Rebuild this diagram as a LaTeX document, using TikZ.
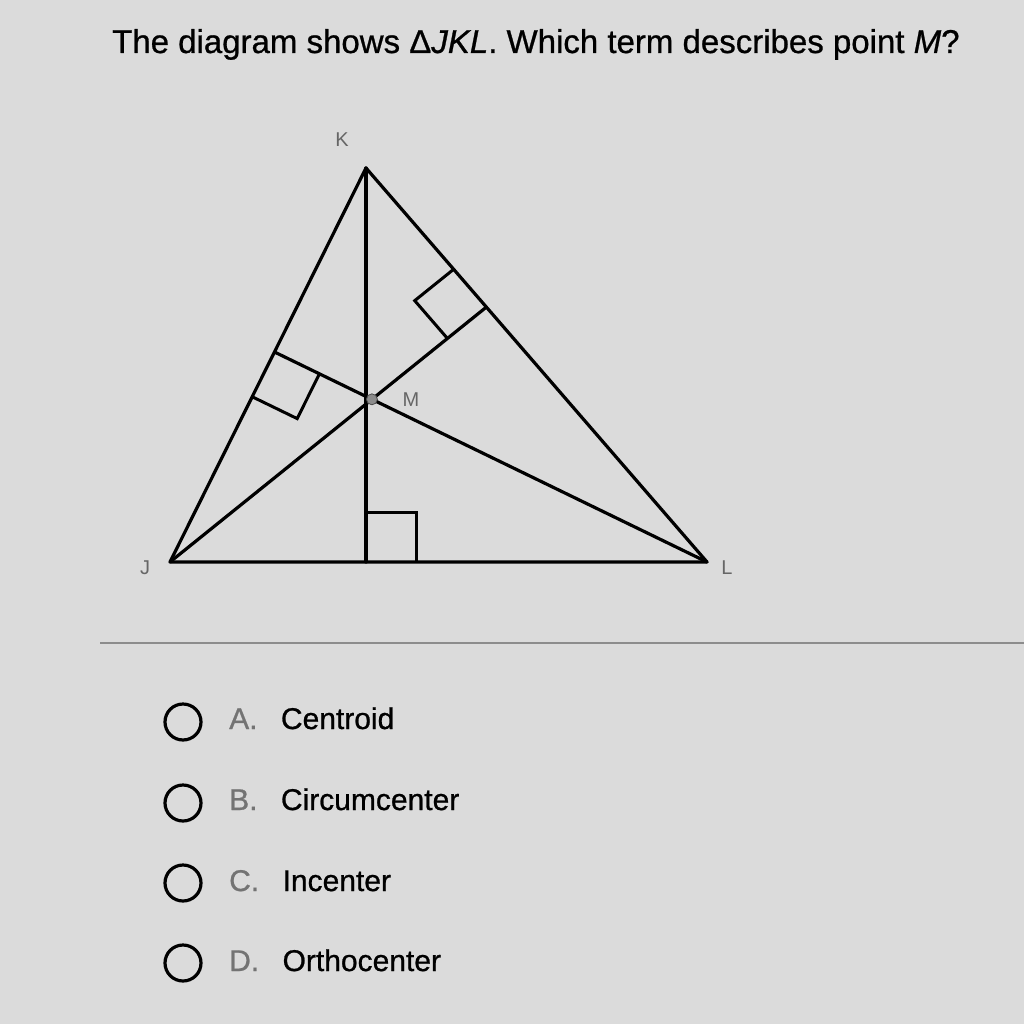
\documentclass[tikz,border=0pt]{standalone}
\usepackage{fontspec}
\setmainfont{Liberation Sans}
\newfontfamily\heavysans{Liberation Sans}[FakeBold=0.8]
\colorlet{ScreenGray}{black!14}
\colorlet{VertexGray}{black!60}
\colorlet{RuleGray}{black!45}
\usetikzlibrary{intersections,calc,positioning}

\begin{document}
\begin{tikzpicture}[x=1pt,y=-1pt,
  side/.style={line width=3.2pt,line cap=round,line join=round},
  rightangle/.style={line width=3pt,line join=miter},
  vertexlabel/.style={text=VertexGray,font=\fontsize{20}{20}\selectfont,inner sep=0pt},
  choice/.style={circle,draw,line width=3.2pt,minimum size=36pt,inner sep=0pt},
  choiceletter/.style={text=black!55,font=\heavysans\fontsize{30}{32}\selectfont,inner sep=0pt,anchor=base west},
  choicetext/.style={font=\heavysans\fontsize{30}{32}\selectfont,inner sep=0pt}]

\useasboundingbox (0,0) rectangle (1024,1024);
\fill[ScreenGray] (0,0) rectangle (1024,1024);

\node[anchor=base west,inner sep=0pt,font=\heavysans\fontsize{33}{36}\selectfont] (question) at (112,53)
  {The diagram shows Δ{\itshape JKL}. Which term describes point {\itshape M}?};

\coordinate (J) at (170,562);
\coordinate (K) at (366,168);
\coordinate (L) at (707,562);
\coordinate (H) at (366,562);
\coordinate (F) at ($(K)!0.353!(L)$);
\coordinate (G) at ($(J)!0.533!(K)$);

\path[name path=JF] (J) -- (F);
\path[name path=LG] (L) -- (G);
\path [name intersections={of=JF and LG, by=M}];

% Hauteurs et triangle
\draw[side] (K) -- (H);
\draw[side] (J) -- (F);
\draw[side] (L) -- (G);
\draw[side] (J) -- (K) -- (L) -- cycle;

% Angles droits
\coordinate (h1) at ($(H)!50pt!(K)$);
\coordinate (h2) at ($(H)!50pt!(L)$);
\draw[rightangle] (h1) -- ($(h1)+(h2)-(H)$) -- (h2);
\coordinate (f1) at ($(F)!50pt!(J)$);
\coordinate (f2) at ($(F)!50pt!(K)$);
\draw[rightangle] (f1) -- ($(f1)+(f2)-(F)$) -- (f2);
\coordinate (g1) at ($(G)!50pt!(L)$);
\coordinate (g2) at ($(G)!50pt!(J)$);
\draw[rightangle] (g1) -- ($(g1)+(g2)-(G)$) -- (g2);

\fill[black!45,draw=black!70,line width=0.8pt] (M) circle (5.5pt);

\node[vertexlabel] (labelK) at (342,140) {K};
\node[vertexlabel] (labelJ) at (145,568) {J};
\node[vertexlabel] (labelL) at (727,568) {L};
\node[vertexlabel] (labelM) at (411,400) {M};

\coordinate (ruleL) at (100,643);
\coordinate (ruleR) at (1024,643);
\draw[RuleGray,line width=2.5pt] (ruleL) -- (ruleR);

\node[choice] (choiceA) at (183,722) {};
\node[choiceletter] (letterA) at (229,729) {A.};
\node[choicetext,base right=23pt of letterA] (textA) {Centroid};

\node[choice] (choiceB) at (183,803) {};
\node[choiceletter] (letterB) at (229,810) {B.};
\node[choicetext,base right=23pt of letterB] (textB) {Circumcenter};

\node[choice] (choiceC) at (183,883) {};
\node[choiceletter] (letterC) at (229,891) {C.};
\node[choicetext,base right=23pt of letterC] (textC) {Incenter};

\node[choice] (choiceD) at (183,963) {};
\node[choiceletter] (letterD) at (229,971) {D.};
\node[choicetext,base right=23pt of letterD] (textD) {Orthocenter};

\end{tikzpicture}
\end{document}
